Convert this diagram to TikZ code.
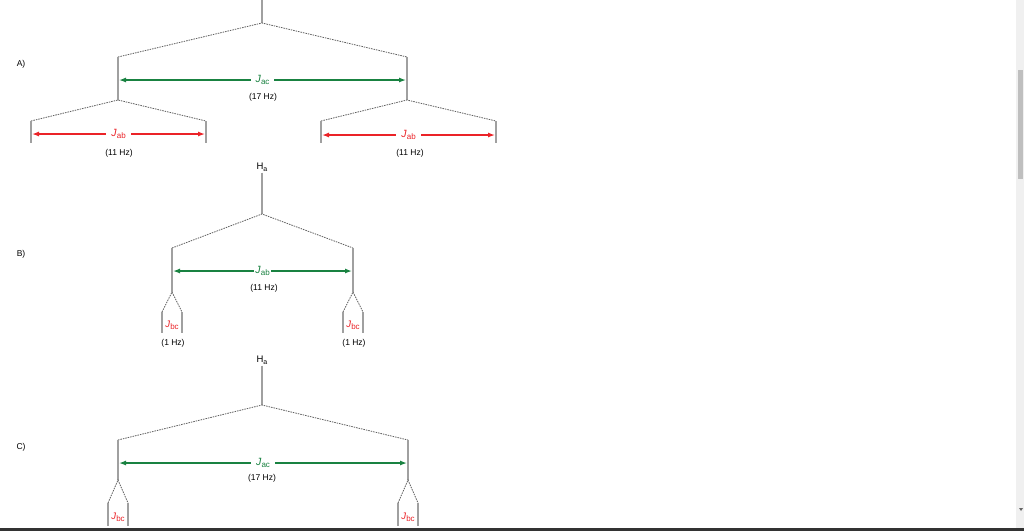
\documentclass[tikz,border=0pt]{standalone}
\usepackage{fontspec}
\setmainfont{Liberation Sans}
\usetikzlibrary{arrows.meta}
\definecolor{jgreen}{RGB}{25,130,65}
\definecolor{jred}{RGB}{235,35,40}
\definecolor{stemgray}{RGB}{160,160,160}
\definecolor{splitgray}{RGB}{95,95,95}
\tikzset{stemline/.style={stemgray,line width=1.3pt},
 splitline/.style={splitgray,line width=0.8pt,dash pattern=on 1.5pt off 1pt},
 coupling/.style={{Latex[length=7pt,width=5pt]}-{Latex[length=7pt,width=5pt]},line width=1.3pt,shorten <=1pt,shorten >=1pt},
 jlabel/.style={fill=white,inner xsep=5pt,inner ysep=1pt,font=\fontsize{10.5}{11}\selectfont},
 every node/.style={font=\fontsize{8.5}{9}\selectfont,inner sep=1pt}}
\newcommand{\cpl}[1]{\textit{J}\kern0.2pt\raisebox{-0.45ex}{\fontsize{8}{9}\selectfont #1}}
\newcommand{\proton}{\fontsize{9.5}{10}\selectfont H\raisebox{-0.4ex}{\fontsize{7}{8}\selectfont a}}

\begin{document}
\begin{tikzpicture}[x=1pt,y=-1pt]
\useasboundingbox[fill=white] (0,0) rectangle (1024,531);
% A) doublet of doublets
\node at (21,64) {A)};
\coordinate (a0) at (262,0);
\coordinate (a1) at (262,23);
\coordinate (aL) at (118,57); \coordinate (aLm) at (118,80); \coordinate (aLb) at (118,100);
\coordinate (aR) at (407,57); \coordinate (aRm) at (407,80); \coordinate (aRb) at (407,100);
\draw[stemline] (a0) -- (a1);
\draw[splitline] (aL) -- (a1) -- (aR);
\draw[stemline] (aL) -- (aLb) (aR) -- (aRb);
\draw[coupling,jgreen] (aLm) -- (aRm) node[jlabel,midway] {\cpl{ac}};
\node (aHz) at (263,97) {(17 Hz)};
\coordinate (aLL) at (31,121); \coordinate (aLLb) at (31,143); \coordinate (aLLm) at (31,134);
\coordinate (aLR) at (206,121); \coordinate (aLRb) at (206,143); \coordinate (aLRm) at (206,134);
\coordinate (aRL) at (321,121); \coordinate (aRLb) at (321,143); \coordinate (aRLm) at (321,135);
\coordinate (aRR) at (496,121); \coordinate (aRRb) at (496,143); \coordinate (aRRm) at (496,135);
\draw[splitline] (aLL) -- (aLb) -- (aLR) (aRL) -- (aRb) -- (aRR);
\draw[stemline] (aLL) -- (aLLb) (aLR) -- (aLRb) (aRL) -- (aRLb) (aRR) -- (aRRb);
\draw[coupling,jred] (aLLm) -- (aLRm) node[jlabel,midway] {\cpl{ab}};
\draw[coupling,jred] (aRLm) -- (aRRm) node[jlabel,midway] {\cpl{ab}};
\node at (119,153) {(11 Hz)};
\node at (410,153) {(11 Hz)};
% B) doublet of doublets, small Jbc
\node at (21,254) {B)};
\node (hb) at (262,167) {\proton};
\coordinate (b1) at (262,214);
\coordinate (bL) at (172,248); \coordinate (bLm) at (172,271); \coordinate (bLb) at (172,292);
\coordinate (bR) at (353,248); \coordinate (bRm) at (353,271); \coordinate (bRb) at (353,292);
\draw[stemline] (hb) -- (b1);
\draw[splitline] (bL) -- (b1) -- (bR);
\draw[stemline] (bL) -- (bLb) (bR) -- (bRb);
\draw[coupling,jgreen] (bLm) -- (bRm) node[jlabel,midway,inner xsep=1pt] {\cpl{ab}};
\node at (264,288) {(11 Hz)};
\foreach \n/\c in {bl/172,br/353}{
 \coordinate (\n1) at (\c-10,312); \coordinate (\n2) at (\c+10,312);
 \draw[splitline] (\n1) -- (\c,292) -- (\n2);
 \draw[stemline] (\n1) -- ++(0,21) (\n2) -- ++(0,21);
 \node[jred,font=\fontsize{9.5}{10}\selectfont] at (\c,325) {\cpl{bc}};
 \node at (\c+1,343) {(1 Hz)};
}
% C) doublet of doublets, Jac first
\node at (21,447) {C)};
\node (hc) at (262,360) {\proton};
\coordinate (c1) at (262,405);
\coordinate (cL) at (118,440); \coordinate (cLm) at (118,463); \coordinate (cLb) at (118,480);
\coordinate (cR) at (408,440); \coordinate (cRm) at (408,463); \coordinate (cRb) at (408,480);
\draw[stemline] (hc) -- (c1);
\draw[splitline] (cL) -- (c1) -- (cR);
\draw[stemline] (cL) -- (cLb) (cR) -- (cRb);
\draw[coupling,jgreen] (cLm) -- (cRm) node[jlabel,midway] {\cpl{ac}};
\node at (262,478) {(17 Hz)};
\foreach \n/\c in {cl/118,cr/408}{
 \coordinate (\n1) at (\c-10,503); \coordinate (\n2) at (\c+10,503);
 \draw[splitline] (\n1) -- (\c,480) -- (\n2);
 \draw[stemline] (\n1) -- ++(0,23) (\n2) -- ++(0,23);
 \node[jred,font=\fontsize{9.5}{10}\selectfont] at (\c,517) {\cpl{bc}};
}
% window edge
\fill[black!6] (1016,0) rectangle (1024,528);
\fill[black!25] (1018,70) rectangle (1023,179);
\fill[black!60] (1019,508) -- (1023,508) -- (1021,511) -- cycle;
\fill[black!80] (0,528) rectangle (1024,531);
\end{tikzpicture}
\end{document}
